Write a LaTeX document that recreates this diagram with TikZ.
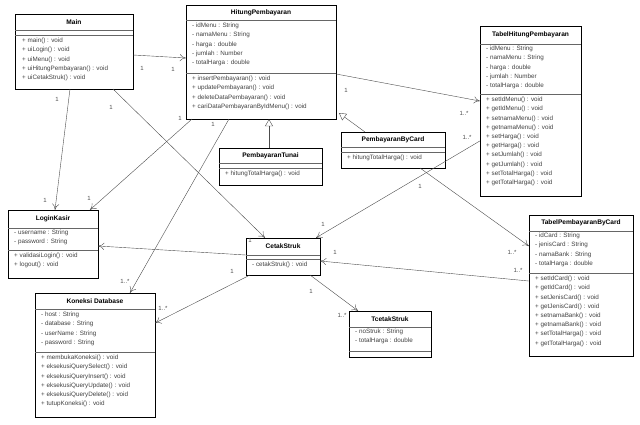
\documentclass[tikz,border=0pt]{standalone}
\usepackage{fontspec}
\setmainfont{Liberation Sans}
\usetikzlibrary{arrows.meta}
\begin{document}
\begin{tikzpicture}[x=1pt,y=-1pt,
  box/.style={draw,thick,fill=white,inner sep=0,anchor=north west},
  ttl/.style={font=\fontsize{6.6}{8}\selectfont\bfseries},
  txt/.style={anchor=north west,align=left,inner sep=0,font=\fontsize{6.3}{9.2}\selectfont,text=black!75},
  lab/.style={font=\fontsize{6}{7}\selectfont,text=black!70,inner sep=0},
  asc/.style={draw=black!70,->,>={To[open,length=6pt,width=7pt]}},
  gen/.style={draw=black!70,->,>={Triangle[open,length=7pt,width=8pt]}}]
\useasboundingbox (0,0) rectangle (640,424);
% class macro: name, x1,y1,x2,y2, title, sep1, sep2
\newcommand\cls[8]{%
  \draw[thick] (#2,#3) rectangle (#4,#5);
  \node[inner sep=0] (#1) at ({(#2+#4)/2},{(#3+#5)/2}) [minimum width={#4-#2},minimum height={#5-#3}] {};
  \node[ttl] at ({(#2+#4)/2},{(#3+#7)/2}) {#6};
  \draw[black!60] (#2,#7) -- (#4,#7);
  \draw[black!60] (#2,#8) -- (#4,#8);}
\cls{main}{15}{14}{133}{89}{Main}{30}{35}
\node[txt] at (22,38) {+ main() : void\\+ uiLogin() : void\\+ uiMenu() : void\\+ uiHitungPembayaran() : void\\+ uiCetakStruk() : void};

\cls{hp}{186}{5}{336}{119}{HitungPembayaran}{20}{73}
\node[txt] at (192,23) {- idMenu : String\\- namaMenu : String\\- harga : double\\- jumlah : Number\\- totalHarga : double};
\node[txt] at (192,76) {+ insertPembayaran() : void\\+ updatePembayaran() : void\\+ deleteDataPembayaran() : void\\+ cariDataPembayaranByIdMenu() : void};

\cls{pt}{219}{148}{322}{185}{PembayaranTunai}{163}{168}
\node[txt] at (225,171) {+ hitungTotalHarga() : void};

\cls{pc}{341}{132}{445}{168}{PembayaranByCard}{147}{152}
\node[txt] at (347,155) {+ hitungTotalHarga() : void};

\cls{thp}{480}{26}{581}{196}{TabelHitungPembayaran}{44}{94}
\node[txt] at (486,46) {- idMenu : String\\- namaMenu : String\\- harga : double\\- jumlah : Number\\- totalHarga : double};
\node[txt] at (486,97) {+ setIdMenu() : void\\+ getIdMenu() : void\\+ setnamaMenu() : void\\+ getnamaMenu() : void\\+ setHarga() : void\\+ getHarga() : void\\+ setJumlah() : void\\+ getJumlah() : void\\+ setTotalHarga() : void\\+ getTotalHarga() : void};

\cls{lk}{8}{210}{98}{278}{LoginKasir}{228}{250}
\node[txt] at (14,230) {- username : String\\- password : String};
\node[txt] at (14,253) {+ validasiLogin() : void\\+ logout() : void};

\cls{cs}{246}{238}{320}{275}{CetakStruk}{255}{259}
\node[txt] at (252,262) {- cetakStruk() : void};

\cls{kd}{35}{293}{155}{417}{Koneksi Database}{309}{352}
\node[txt] at (41,312) {- host : String\\- database : String\\- userName : String\\- password : String};
\node[txt] at (41,355) {+ membukaKoneksi() : void\\+ eksekusiQuerySelect() : void\\+ eksekusiQueryInsert() : void\\+ eksekusiQueryUpdate() : void\\+ eksekusiQueryDelete() : void\\+ tutupKoneksi() : void};

\cls{tcs}{349}{311}{431}{357}{TcetakStruk}{327}{351}
\node[txt] at (355,329) {- noStruk : String\\- totalHarga : double};

\cls{tpc}{529}{215}{633}{356}{TabelPembayaranByCard}{231}{273}
\node[txt] at (535,233) {- idCard : String\\- jenisCard : String\\- namaBank : String\\- totalHarga : double};
\node[txt] at (535,276) {+ setIdCard() : void\\+ getIdCard() : void\\+ setJenisCard() : void\\+ getJenisCard() : void\\+ setnamaBank() : void\\+ getnamaBank() : void\\+ setTotalHarga() : void\\+ getTotalHarga() : void};

% associations
\draw[asc] (main.east |- 0,55) -- (hp.west |- 0,58);
\node[lab] at (142,68) {1}; \node[lab] at (173,69) {1};
\draw[asc] (70,89) -- (lk.north -| 55,0);
\node[lab] at (57,99) {1}; \node[lab] at (45,200) {1};
\draw[asc] (113,89) -- (cs.north -| 265,0);
\node[lab] at (111,107) {1}; \node[lab] at (250,240) {1};
\draw[asc] (192,119) -- (lk.north -| 90,0);
\node[lab] at (180,118) {1}; \node[lab] at (89,198) {1};
\draw[asc] (229,119) -- (kd.north -| 130,0);
\node[lab] at (213,124) {1}; \node[lab] at (125,281) {1..*};
\draw[asc] (hp.east |- 0,74) -- (thp.west |- 0,101);
\node[lab] at (346,90) {1}; \node[lab] at (464,113) {1..*};
\draw[gen] (pt.north -| 269,0) -- (hp.south -| 269,0);
\draw[gen] (365,132) -- (339,113);
\draw[asc] (thp.west |- 0,141) -- (cs.north -| 316,0);
\node[lab] at (467,137) {1..*}; \node[lab] at (323,224) {1};
\draw[asc] (420,168) -- (tpc.west |- 0,246);
\node[lab] at (420,186) {1}; \node[lab] at (512,252) {1..*};
\draw[asc] (cs.west |- 0,255) -- (lk.east |- 0,246);
\draw[asc] (tpc.west |- 0,281) -- (cs.east |- 0,261);
\node[lab] at (335,252) {1}; \node[lab] at (518,270) {1..*};
\draw[asc] (250,275) -- (kd.east |- 0,323);
\node[lab] at (232,271) {1}; \node[lab] at (163,308) {1..*};
\draw[asc] (310,275) -- (tcs.north -| 358,0);
\node[lab] at (311,291) {1}; \node[lab] at (342,315) {1..*};
\end{tikzpicture}
\end{document}
